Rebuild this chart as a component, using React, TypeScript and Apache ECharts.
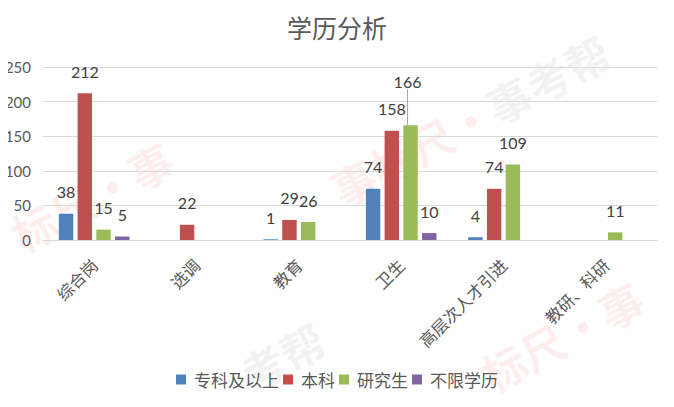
import React, { useEffect, useRef } from "react";
import * as echarts from "echarts";

const categories = ["综合岗", "选调", "教育", "卫生", "高层次人才引进", "教研、科研"];
const seriesNames = ["专科及以上", "本科", "研究生", "不限学历"];
const zhuanke = [38, null, 1, 74, 4, null];
const benke = [212, 22, 29, 158, 74, null];
const yanjiusheng = [15, null, 26, 166, 109, 11];
const buxian = [5, null, null, 10, null, null];
const colors = ["#4F81BD", "#C0504D", "#9BBB59", "#8064A2"];
const raisedLabel = { series: 2, index: 3 };

export default function App() {
  const ref = useRef<HTMLDivElement>(null);
  useEffect(() => {
    if (!ref.current) return;
    const chart = echarts.init(ref.current, null, { renderer: "svg" });
    const numFont = "Lato, 'Noto Sans CJK SC', sans-serif";
    const cjkFont = "'Noto Sans CJK SC', sans-serif";
    const dataSets = [zhuanke, benke, yanjiusheng, buxian];
    const wm = (x: number, y: number, red: string, gray: string) => ({
      type: "text",
      x,
      y,
      rotation: (28 * Math.PI) / 180,
      silent: true,
      z: -10,
      style: {
        text: `{r|${red}}{g|${gray}}`,
        align: "center",
        verticalAlign: "middle",
        rich: {
          r: { fontSize: 44, fontWeight: "bold", fill: "rgba(235,70,70,0.09)", fontFamily: cjkFont },
          g: { fontSize: 44, fontWeight: "bold", fill: "rgba(120,120,120,0.09)", fontFamily: cjkFont },
        },
      },
    });
    chart.setOption({
      animation: false,
      backgroundColor: "#ffffff",
      color: colors,
      title: {
        text: "学历分析",
        left: "center",
        top: 9,
        textStyle: { fontSize: 25, fontWeight: "normal", color: "#595959", fontFamily: cjkFont },
      },
      graphic: [
        wm(470, 120, "事标尺·", "事考帮"),
        wm(92, 196, "标尺·事", ""),
        wm(562, 336, "标尺·事", ""),
        wm(282, 356, "", "考帮"),
      ],
      legend: {
        bottom: 14,
        left: "center",
        icon: "rect",
        itemWidth: 10,
        itemHeight: 10,
        itemGap: 4,
        textStyle: { fontSize: 17, color: "#595959", fontFamily: cjkFont, padding: [0, 0, 0, 3] },
        data: seriesNames,
      },
      grid: { left: 43, right: 17, top: 67, bottom: 167, containLabel: false },
      xAxis: {
        type: "category",
        data: categories,
        axisLine: { lineStyle: { color: "#d9d9d9" } },
        axisTick: { show: false },
        axisLabel: {
          rotate: 45,
          interval: 0,
          margin: 22,
          fontSize: 16.5,
          color: "#595959",
          fontFamily: cjkFont,
        },
      },
      yAxis: {
        type: "value",
        min: 0,
        max: 250,
        interval: 50,
        axisLine: { show: false },
        axisTick: { show: false },
        splitLine: { lineStyle: { color: "#d9d9d9" } },
        axisLabel: { fontSize: 15, color: "#595959", margin: 12, fontFamily: numFont },
      },
      series: dataSets.map((d, i) => ({
        name: seriesNames[i],
        type: "bar",
        data: d.map((v, j) =>
          i === raisedLabel.series && j === raisedLabel.index
            ? { value: v, labelLine: { show: true, lineStyle: { color: "#a6a6a6", width: 1 } } }
            : v
        ),
        barGap: "30%",
        barCategoryGap: "31%",
        label: {
          show: true,
          position: "top",
          distance: 14,
          fontSize: 16,
          color: "#404040",
          fontFamily: numFont,
        },
        labelLayout:
          i === raisedLabel.series
            ? (p: any) => (p.dataIndex === raisedLabel.index ? { dy: -22, dx: -3 } : {})
            : undefined,
      })),
    });
    return () => chart.dispose();
  }, []);
  return <div ref={ref} style={{ width: 674, height: 407, marginLeft: -8, marginTop: -8 }} />;
}
